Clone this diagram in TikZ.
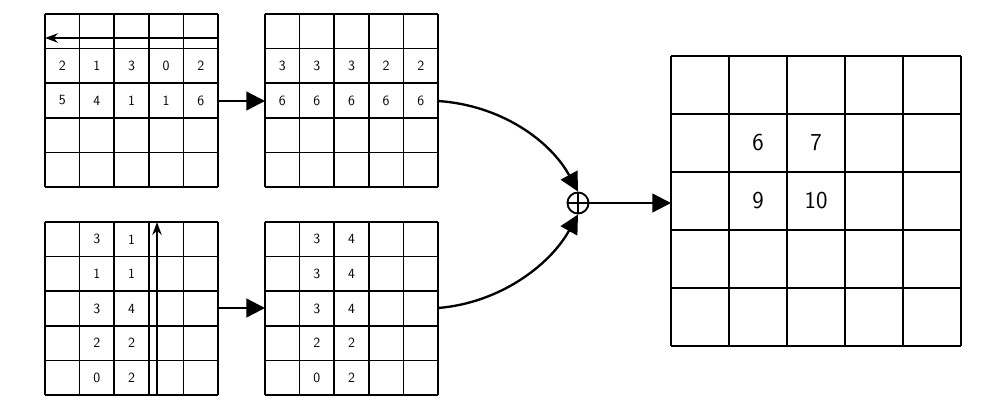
\documentclass[tikz,border=0pt]{standalone}
\usepackage{tikz}
\usetikzlibrary{arrows.meta}
\tikzset{
  cellnum/.style={font=\sffamily\large},
  bignum/.style={font=\sffamily\huge},
  gridline/.style={line width=1.3pt},
  flow/.style={line width=2pt,-{Triangle[length=16pt,width=16pt]}}
}
\def\cw{34.6}
\begin{document}
\begin{tikzpicture}[x=0.03cm,y=-0.03cm]
        \useasboundingbox (0,0) rectangle (1002,409);
        % small grids
        \foreach \gx/\gy in {45/14,265/14,45/222,265/222}
            \foreach \k in {0,...,5}{
                \draw[gridline] (\gx+\k*\cw,\gy) -- (\gx+\k*\cw,\gy+173);
                \draw[gridline] (\gx,\gy+\k*\cw) -- (\gx+173,\gy+\k*\cw);
            }
        % big grid
        \foreach \k in {0,...,5}{
            \draw[gridline] (671+\k*58,56) -- (671+\k*58,346);
            \draw[gridline] (671,56+\k*58) -- (961,56+\k*58);
        }

        % top left
        \foreach \v [count=\i from 0] in {2,1,3,0,2}
            \node[cellnum] at (62.3+\i*\cw,66) {\v};
        \foreach \v [count=\i from 0] in {5,4,1,1,6}
            \node[cellnum] at (62.3+\i*\cw,100.5) {\v};
        % top right
        \foreach \v [count=\i from 0] in {3,3,3,2,2}
            \node[cellnum] at (282.3+\i*\cw,66) {\v};
        \foreach \v [count=\i from 0] in {6,6,6,6,6}
            \node[cellnum] at (282.3+\i*\cw,100.5) {\v};
        % bottom left and right
        \foreach \a/\b [count=\j from 0] in {3/1,1/1,3/4,2/2,0/2}{
            \node[cellnum] at (96.9,239.3+\j*\cw) {\a};
            \node[cellnum] at (131.5,239.3+\j*\cw) {\b};
        }
        \foreach \a/\b [count=\j from 0] in {3/4,3/4,3/4,2/2,0/2}{
            \node[cellnum] at (316.9,239.3+\j*\cw) {\a};
            \node[cellnum] at (351.5,239.3+\j*\cw) {\b};
        }
        % big grid numbers
        \node[bignum] at (758,143) {6};
        \node[bignum] at (816,143) {7};
        \node[bignum] at (758,201) {9};
        \node[bignum] at (816,201) {10};

        % scan arrows
        \draw[line width=1.6pt,-{Stealth[length=11pt,width=8pt]}] (218,38) -- (45,38);
        \draw[line width=1.6pt,-{Stealth[length=11pt,width=8pt]}] (157,395) -- (157,222);

        % sum node
        \node[circle,draw,line width=1.6pt,inner sep=0pt,minimum size=18pt] (sum) at (578,203) {};
        \draw[line width=1.6pt] (sum.north) -- (sum.south) (sum.west) -- (sum.east);

        \coordinate (t1) at (218,101);
        \coordinate (t2) at (265,101);
        \coordinate (b1) at (218,308);
        \coordinate (b2) at (265,308);
        \coordinate (tout) at (438,101);
        \coordinate (bout) at (438,308);
        \coordinate (big) at (671,203);
        \draw[flow] (t1) -- (t2);
        \draw[flow] (b1) -- (b2);
        \draw[flow] (tout) .. controls (500,105) and (550,140) .. (sum.north);
        \draw[flow] (bout) .. controls (500,303) and (550,265) .. (sum.south);
        \draw[flow] (sum.east) -- (big);
\end{tikzpicture}
\end{document}
